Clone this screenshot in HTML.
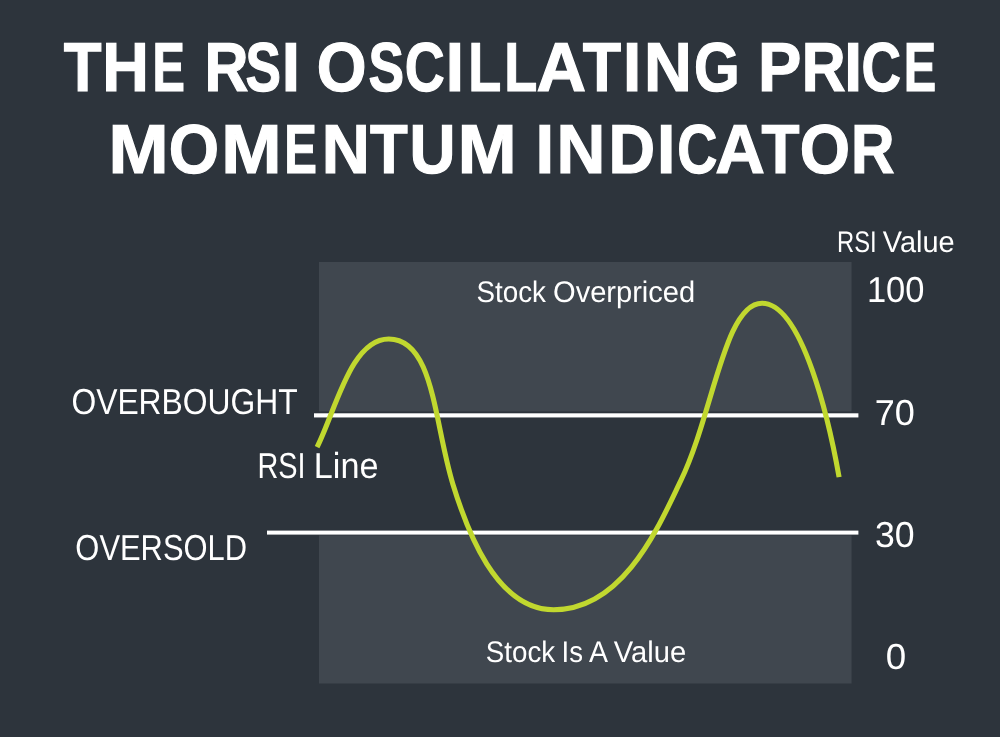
<!DOCTYPE html>
<html lang="en"><head><meta charset="utf-8"><title>The RSI Oscillating Price Momentum Indicator</title>
<style>
html,body{margin:0;padding:0;background:#2d343c;}
body{width:1000px;height:737px;overflow:hidden;}
svg{display:block;}
text{font-family:"Liberation Sans", "DejaVu Sans", sans-serif;fill:#fff;white-space:pre;text-rendering:geometricPrecision;}
</style></head><body>
<svg width="1000" height="737" viewBox="0 0 1000 737">
<rect width="1000" height="737" fill="#2d343c"/>
<rect x="319" y="262" width="532.6" height="421.5" fill="#40474f"/>
<rect x="319" y="411.4" width="533" height="124" fill="#2d343c"/>
<rect x="314" y="413.3" width="544.4" height="4.15" fill="#fff"/>
<rect x="267" y="530.6" width="591.4" height="4" fill="#fff"/>
<path d="M317.1 447.1 C335.8 410.0 350.8 339.0 388.8 339.0 C433.9 339.0 434.0 422.5 452.9 484.2 C466.9 529.8 495.9 609.8 553.6 609.8 C624.3 609.8 659.7 524.1 680.8 480.7 C713.2 413.8 724.4 303.2 762.0 303.2 C802.7 303.2 829.6 423.6 839.1 477.1" fill="none" stroke="#c1d82f" stroke-width="5.1" stroke-linecap="butt" stroke-linejoin="round"/>
<text id="t1" y="91" font-size="69.3" font-weight="700" stroke="#fff" stroke-width="1.2" stroke-linejoin="miter"><tspan id="t1_0" x="63.7" textLength="37.81" lengthAdjust="spacingAndGlyphs">T</tspan><tspan id="t1_1" x="102.23" textLength="46.64" lengthAdjust="spacingAndGlyphs">H</tspan><tspan id="t1_2" x="152.61" textLength="32.42" lengthAdjust="spacingAndGlyphs">E</tspan> <tspan id="t1_4" x="204.61" textLength="43.99" lengthAdjust="spacingAndGlyphs">R</tspan><tspan id="t1_5" x="245.45" textLength="35.48" lengthAdjust="spacingAndGlyphs">S</tspan><tspan id="t1_6" x="281.77" textLength="18.25" lengthAdjust="spacingAndGlyphs">I</tspan> <tspan id="t1_8" x="316.75" textLength="49.78" lengthAdjust="spacingAndGlyphs">O</tspan><tspan id="t1_9" x="368.48" textLength="35.61" lengthAdjust="spacingAndGlyphs">S</tspan><tspan id="t1_10" x="404.73" textLength="39.96" lengthAdjust="spacingAndGlyphs">C</tspan><tspan id="t1_11" x="445.85" textLength="18.22" lengthAdjust="spacingAndGlyphs">I</tspan><tspan id="t1_12" x="468.17" textLength="32.99" lengthAdjust="spacingAndGlyphs">L</tspan><tspan id="t1_13" x="504.34" textLength="33.02" lengthAdjust="spacingAndGlyphs">L</tspan><tspan id="t1_14" x="536.56" textLength="49.62" lengthAdjust="spacingAndGlyphs">A</tspan><tspan id="t1_15" x="582.68" textLength="38.32" lengthAdjust="spacingAndGlyphs">T</tspan><tspan id="t1_16" x="622.92" textLength="18.21" lengthAdjust="spacingAndGlyphs">I</tspan><tspan id="t1_17" x="644.07" textLength="47.86" lengthAdjust="spacingAndGlyphs">N</tspan><tspan id="t1_18" x="693.95" textLength="45.75" lengthAdjust="spacingAndGlyphs">G</tspan> <tspan id="t1_20" x="758.1" textLength="43.33" lengthAdjust="spacingAndGlyphs">P</tspan><tspan id="t1_21" x="801.63" textLength="43.86" lengthAdjust="spacingAndGlyphs">R</tspan><tspan id="t1_22" x="844.16" textLength="17.78" lengthAdjust="spacingAndGlyphs">I</tspan><tspan id="t1_23" x="861.56" textLength="39.54" lengthAdjust="spacingAndGlyphs">C</tspan><tspan id="t1_24" x="903.7" textLength="32.42" lengthAdjust="spacingAndGlyphs">E</tspan></text>
<text id="t2" y="173" font-size="69.3" font-weight="700" stroke="#fff" stroke-width="1.2" stroke-linejoin="miter"><tspan id="t2_0" x="108.45" textLength="60.12" lengthAdjust="spacingAndGlyphs">M</tspan><tspan id="t2_1" x="168.82" textLength="50.32" lengthAdjust="spacingAndGlyphs">O</tspan><tspan id="t2_2" x="221.33" textLength="60.32" lengthAdjust="spacingAndGlyphs">M</tspan><tspan id="t2_3" x="284.19" textLength="32.69" lengthAdjust="spacingAndGlyphs">E</tspan><tspan id="t2_4" x="321.82" textLength="48.09" lengthAdjust="spacingAndGlyphs">N</tspan><tspan id="t2_5" x="370.02" textLength="37.74" lengthAdjust="spacingAndGlyphs">T</tspan><tspan id="t2_6" x="409.51" textLength="45.99" lengthAdjust="spacingAndGlyphs">U</tspan><tspan id="t2_7" x="457.8" textLength="58.78" lengthAdjust="spacingAndGlyphs">M</tspan> <tspan id="t2_9" x="535.5" textLength="18.6" lengthAdjust="spacingAndGlyphs">I</tspan><tspan id="t2_10" x="556.6" textLength="48.82" lengthAdjust="spacingAndGlyphs">N</tspan><tspan id="t2_11" x="608.58" textLength="46.65" lengthAdjust="spacingAndGlyphs">D</tspan><tspan id="t2_12" x="656.93" textLength="18.39" lengthAdjust="spacingAndGlyphs">I</tspan><tspan id="t2_13" x="677.37" textLength="40.18" lengthAdjust="spacingAndGlyphs">C</tspan><tspan id="t2_14" x="715.3" textLength="49.68" lengthAdjust="spacingAndGlyphs">A</tspan><tspan id="t2_15" x="761.53" textLength="38.0" lengthAdjust="spacingAndGlyphs">T</tspan><tspan id="t2_16" x="799.82" textLength="50.32" lengthAdjust="spacingAndGlyphs">O</tspan><tspan id="t2_17" x="850.91" textLength="43.49" lengthAdjust="spacingAndGlyphs">R</tspan></text>
<text id="rv" y="252" font-size="29.8" font-weight="400"><tspan id="rv_0" x="837.01" textLength="39.68" lengthAdjust="spacingAndGlyphs">RSI</tspan> <tspan id="rv_1" x="882.79" textLength="71.76" lengthAdjust="spacingAndGlyphs">Value</tspan></text>
<text id="n100" y="302" font-size="36" font-weight="400"><tspan id="n100_0" x="866.95" textLength="57.55" lengthAdjust="spacingAndGlyphs">100</tspan></text>
<text id="so" y="302" font-size="29.8" font-weight="400"><tspan id="so_0" x="476.48" textLength="69.49" lengthAdjust="spacingAndGlyphs">Stock</tspan> <tspan id="so_1" x="553.05" textLength="142.13" lengthAdjust="spacingAndGlyphs">Overpriced</tspan></text>
<text id="ob" y="414" font-size="36.1" font-weight="400"><tspan id="ob_0" x="71.44" textLength="226.24" lengthAdjust="spacingAndGlyphs">OVERBOUGHT</tspan></text>
<text id="n70" y="425" font-size="36" font-weight="400"><tspan id="n70_0" x="874.79" textLength="40.1" lengthAdjust="spacingAndGlyphs">70</tspan></text>
<text id="rl" y="478" font-size="36.1" font-weight="400"><tspan id="rl_0" x="257.5" textLength="48.16" lengthAdjust="spacingAndGlyphs">RSI</tspan> <tspan id="rl_1" x="313.76" textLength="64.72" lengthAdjust="spacingAndGlyphs">Line</tspan></text>
<text id="os" y="560" font-size="36.1" font-weight="400"><tspan id="os_0" x="75.37" textLength="171.7" lengthAdjust="spacingAndGlyphs">OVERSOLD</tspan></text>
<text id="n30" y="547" font-size="36" font-weight="400"><tspan id="n30_0" x="875.05" textLength="39.66" lengthAdjust="spacingAndGlyphs">30</tspan></text>
<text id="sv" y="662" font-size="29.8" font-weight="400"><tspan id="sv_0" x="485.8" textLength="69.34" lengthAdjust="spacingAndGlyphs">Stock</tspan> <tspan id="sv_1" x="561.61" textLength="21.41" lengthAdjust="spacingAndGlyphs">Is</tspan> <tspan id="sv_2" x="589.03" textLength="17.43" lengthAdjust="spacingAndGlyphs">A</tspan> <tspan id="sv_3" x="613.81" textLength="72.4" lengthAdjust="spacingAndGlyphs">Value</tspan></text>
<text id="n0" y="669" font-size="36" font-weight="400"><tspan id="n0_0" x="885.79" textLength="20.42" lengthAdjust="spacingAndGlyphs">0</tspan></text>
</svg>
</body></html>
